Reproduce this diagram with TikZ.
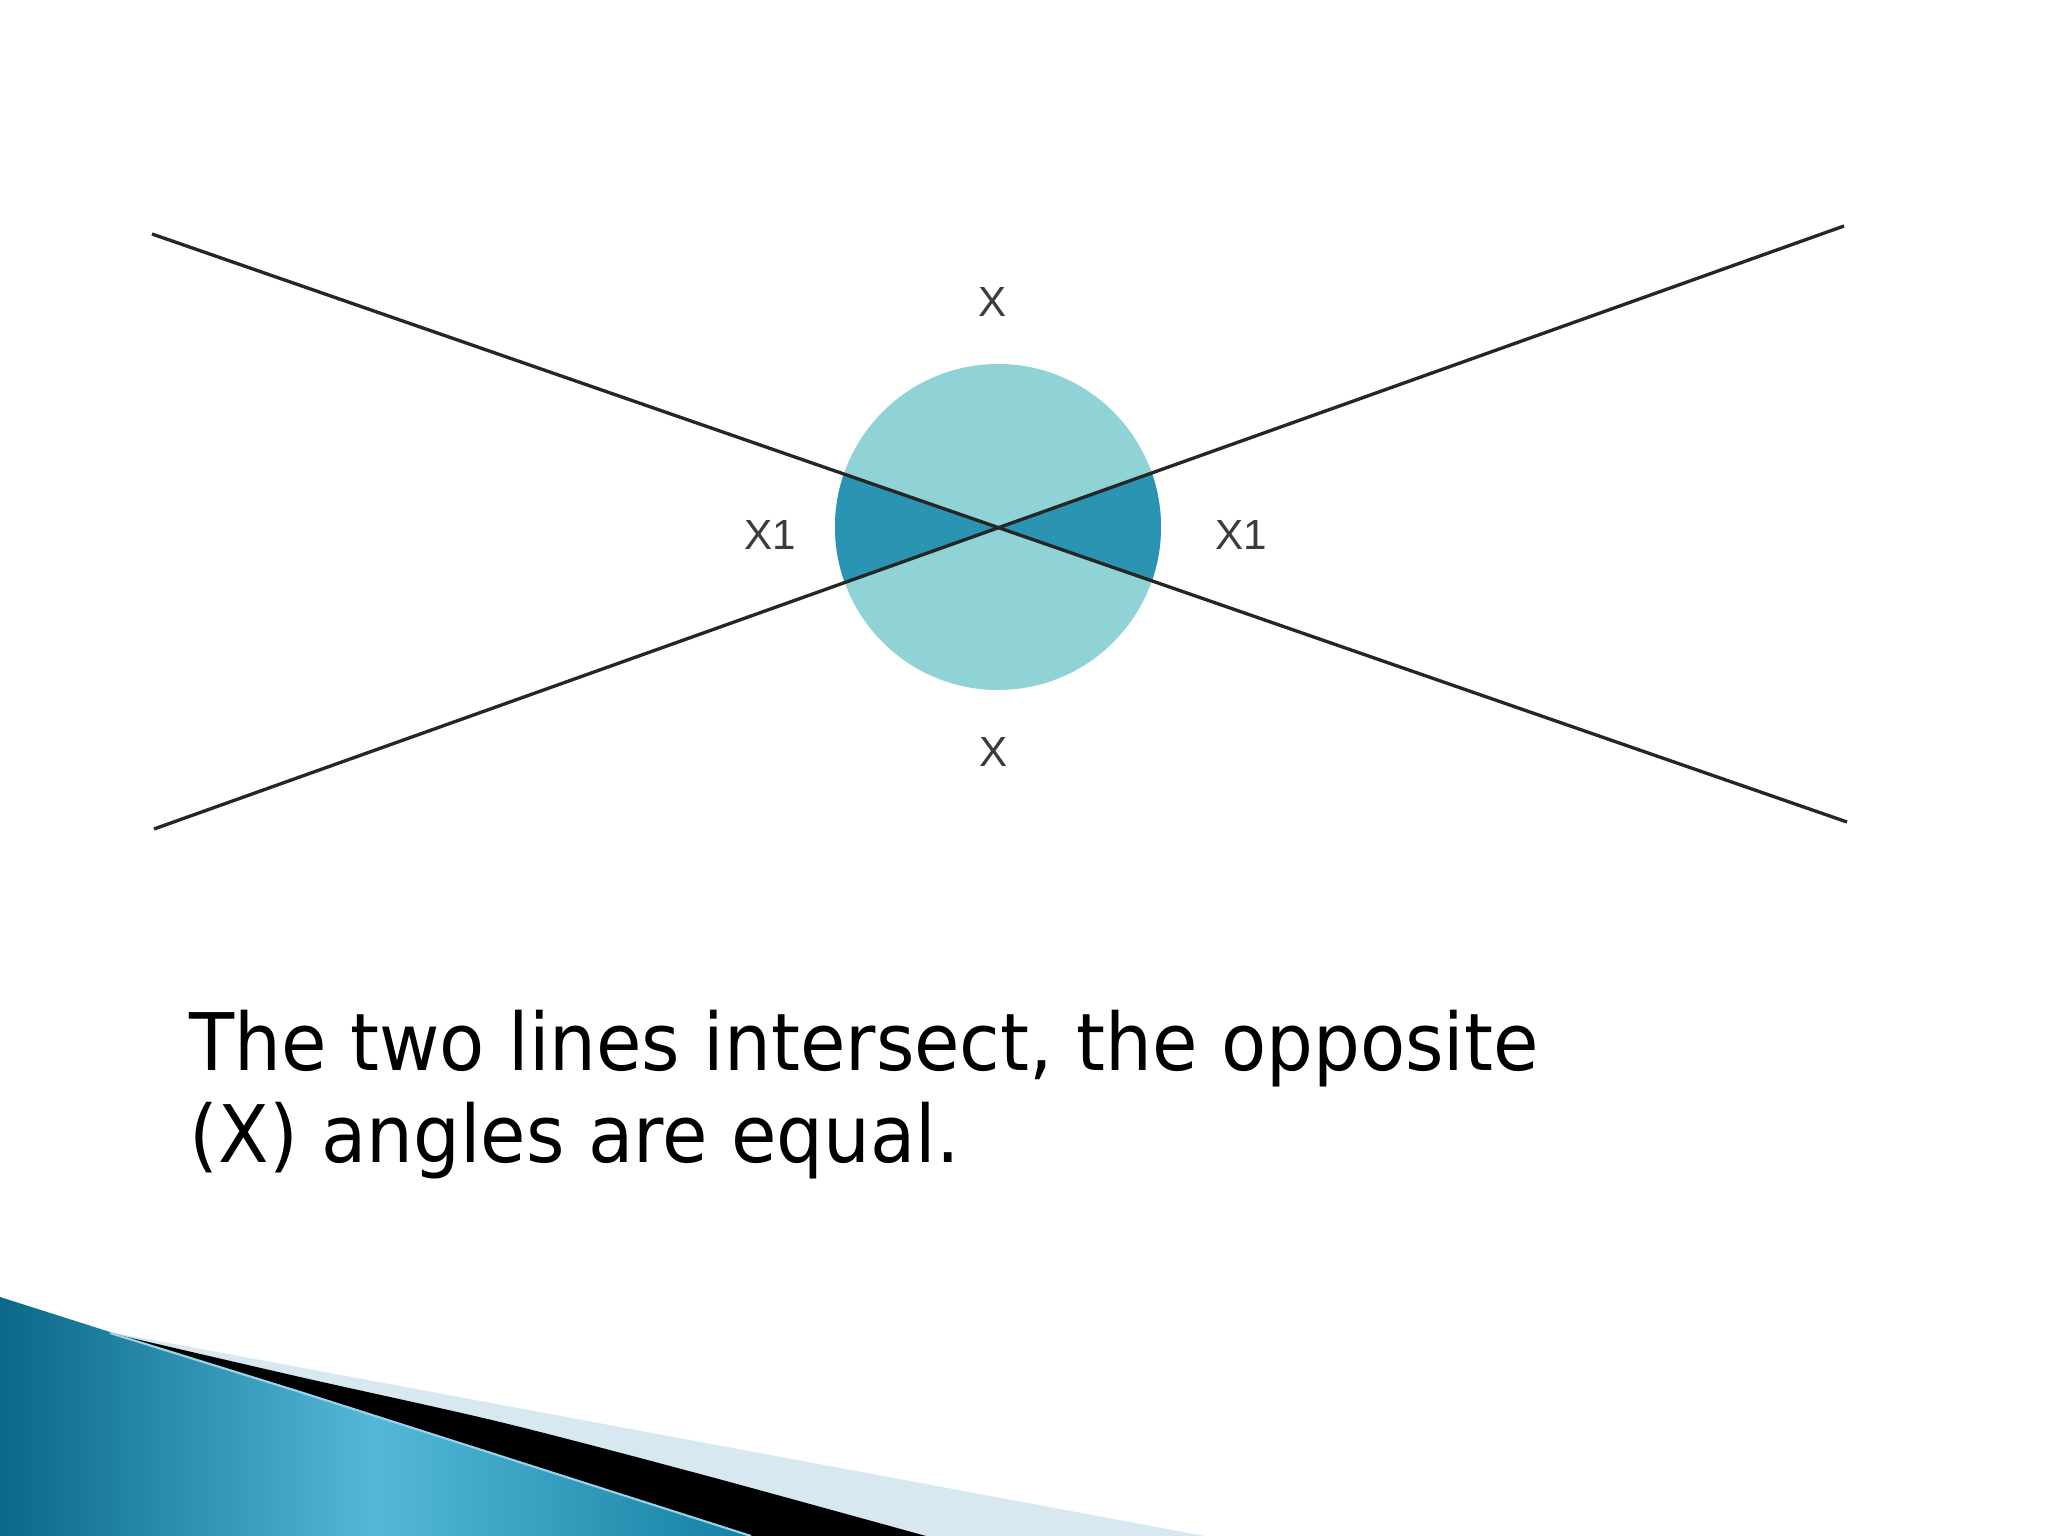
\documentclass[tikz,border=0pt]{standalone}
\usepackage{fontspec}
\setmainfont{Liberation Sans}
\newfontfamily\bodyfont[FakeStretch=0.93]{DejaVu Sans}
\usetikzlibrary{positioning}

\definecolor{anglelight}{RGB}{143,211,215}
\definecolor{angledark}{RGB}{42,148,178}
\definecolor{labelgray}{RGB}{60,60,60}
\definecolor{swooshdark}{RGB}{10,104,136}
\definecolor{swooshlight}{RGB}{84,184,216}
\definecolor{swooshmid}{RGB}{20,128,162}
\definecolor{swooshpale}{RGB}{216,232,240}

\begin{document}
\begin{tikzpicture}[
    line/.style={draw=black!85,line width=0.95pt},
    lbl/.style={font=\fontsize{12pt}{14pt}\selectfont,text=labelgray,inner sep=0pt},
    caption/.style={font=\bodyfont\fontsize{22.6pt}{26pt}\selectfont,inner sep=0pt},
  ]
  \useasboundingbox (0,0) rectangle (20.48,-15.36);
  \fill[white] (0,0) rectangle (20.48,-15.36);

  % Line ends and crossing
  \coordinate (a1) at (1.52,-2.34);
  \coordinate (a2) at (18.47,-8.22);
  \coordinate (b1) at (1.54,-8.29);
  \coordinate (b2) at (18.44,-2.26);
  \coordinate (o) at (9.98,-5.27);

  % Angle disc
  \fill[anglelight] (o) circle (1.63);
  \begin{scope}
    \clip (o) circle (1.63);
    \fill[angledark] (o) -- (a1) -- (b1) -- cycle;
    \fill[angledark] (o) -- (a2) -- (b2) -- cycle;
  \end{scope}

  % Lines
  \draw[line] (a1) -- (a2);
  \draw[line] (b1) -- (b2);

  % Labels
  \node[lbl] (xtop) at (9.93,-3.02) {X};
  \node[lbl] (xbot) at (9.94,-7.52) {X};
  \node[lbl] (xleft) at (7.70,-5.35) {X1};
  \node[lbl] (xright) at (12.41,-5.35) {X1};

  % Caption
  \node[caption, anchor=base west] (cap1) at (1.89,-10.70) {The two lines intersect, the opposite};
  \node[caption, below=0.92cm of cap1.base west, anchor=base west] (cap2) {(X) angles are equal.};

  % Corner swoosh
  \fill[swooshpale] (1.10,-13.32) -- (12.05,-15.36) -- (1.10,-15.36) -- cycle;
  \fill[black] plot[smooth] coordinates {(1.10,-13.33) (3.00,-13.77) (5.00,-14.22) (7.00,-14.74) (9.26,-15.36)}
    -- (1.10,-15.36) -- cycle;
  \shade[left color=swooshdark, right color=swooshmid, middle color=swooshlight]
    (0,-12.97) -- (1.10,-13.32) -- (3.00,-13.91) -- (7.51,-15.36) -- (0,-15.36) -- cycle;
  \draw[swooshlight!60!white, line width=0.6pt] (1.10,-13.33) -- (3.00,-13.92) -- (7.51,-15.36);
\end{tikzpicture}
\end{document}
